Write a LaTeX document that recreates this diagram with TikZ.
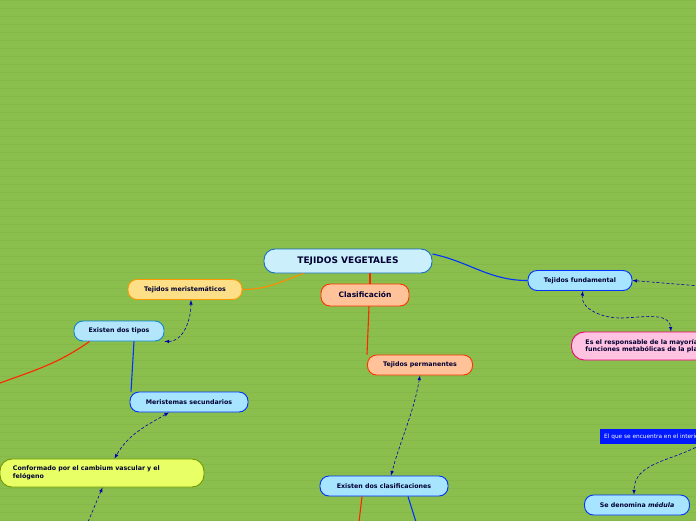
\documentclass[tikz,border=0pt]{standalone}
\usepackage{fontspec}
\setmainfont{DejaVu Sans}
\begin{document}
\begin{tikzpicture}[x=1pt,y=-1pt,
 box/.style={draw,line width=0.9pt,rounded corners=9pt,font=\bfseries\fontsize{6.3}{7.5}\selectfont,text=black!80!blue,inner sep=0pt,minimum height=20pt},
 dashc/.style={densely dashed,draw=blue!70!black,line width=0.6pt,-latex},
 conn/.style={line width=1.1pt}]
\definecolor{bg}{HTML}{8ABF4E}
\useasboundingbox (0,0) rectangle (696,520);
\clip (0,0) rectangle (696,520);
\fill[bg] (0,0) rectangle (696,520);
\foreach \y in {0,8,...,520} \draw[black!4!bg,line width=0.3pt] (0,\y) -- (696,\y);
% nodes
\node[box,fill=cyan!20,draw=cyan!50!blue,minimum width=168pt,minimum height=24pt,rounded corners=11pt,font=\bfseries\fontsize{9}{10}\selectfont] (root) at (348,261) {TEJIDOS VEGETALES};
\node[box,fill=yellow!50!orange!45,draw=orange!80!yellow,minimum width=114pt] (mer) at (185,289.5) {Tejidos meristemáticos};
\node[box,fill=red!20!orange!40,draw=red!60!orange,minimum width=88pt,minimum height=22pt,font=\bfseries\fontsize{7.5}{9}\selectfont] (clas) at (365,295) {Clasificación};
\node[box,fill=cyan!30,draw=cyan!70!blue,minimum width=90pt] (tipos) at (119,331) {Existen dos tipos};
\node[box,fill=red!20!orange!40,draw=red!60!orange,minimum width=105pt] (perm) at (420,365) {Tejidos permanentes};
\node[box,fill=blue!30!cyan!35,draw=blue!80!cyan,minimum width=118pt] (sec) at (189,402) {Meristemas secundarios};
\node[box,fill=lime!60!yellow!60,draw=lime!60!black,minimum height=28pt,rounded corners=12pt,align=left,text width=178pt,inner xsep=13pt,anchor=west] (conf) at (-0.5,473) {Conformado por el cambium vascular y el\\felógeno};
\node[box,fill=blue!30!cyan!35,draw=blue!80!cyan,minimum width=128pt] (dosc) at (384,486) {Existen dos clasificaciones};
\node[box,fill=blue!30!cyan!35,draw=blue!80!cyan,minimum width=104pt] (fund) at (580,280.5) {Tejidos fundamental};
\node[box,fill=pink!80!magenta!60,draw=magenta!80!red,minimum width=180pt,minimum height=28pt,rounded corners=13pt,align=left,anchor=west] (resp) at (571,346) {\hspace*{14pt}\parbox{170pt}{Es el responsable de la mayoría de las\\funciones metabólicas de la planta}};
\node[fill=blue!90!cyan,text=white,font=\fontsize{5.8}{7}\selectfont,anchor=west,minimum height=15pt,inner sep=4pt] (int) at (600,436.5) {El que se encuentra en el interior del tallo};
\node[box,fill=blue!30!cyan!35,draw=blue!80!cyan,minimum width=105pt] (med) at (637,505) {Se denomina \textit{médula}};
\coordinate (lft) at (0,383);
\coordinate (rgt) at (700,286);
\coordinate (cb) at (88,522);
\coordinate (o1) at (359,522);
\coordinate (b1) at (416,522);
% connectors
\draw[conn,orange!90!yellow] ([xshift=40pt]root.south west) to[out=200,in=0] (mer.east);
\draw[conn,red!70!orange] ([xshift=22pt]root.south) -- ([xshift=5pt]clas.north);
\draw[conn,red!70!orange] ([xshift=4pt]clas.south) -- ([xshift=-53pt]perm.north);
\draw[conn,blue!80!cyan] ([yshift=7pt]root.east) to[out=-12,in=180] (fund.west);
\draw[conn,red!70!orange] ([xshift=16pt]tipos.south west) to[out=215,in=20] (lft);
\draw[conn,blue!80!cyan] ([xshift=15pt]tipos.south) -- ([xshift=-58pt]sec.north);
\draw[conn,red!70!orange] ([xshift=-22pt]dosc.south) -- (o1);
\draw[conn,blue!80!cyan] ([xshift=24pt]dosc.south) -- (b1);
\draw[dashc,latex-latex] (tipos.south east) to[out=0,in=-90] ([xshift=6pt]mer.south);
\draw[dashc,latex-latex] ([xshift=-20pt]sec.south) to[out=210,in=60] ([xshift=115pt]conf.north west);
\draw[dashc,latex-] ([xshift=103pt]conf.south west) -- (cb);
\draw[dashc,latex-latex] (perm.south) to[out=260,in=75] ([xshift=7pt]dosc.north);
\draw[dashc,latex-latex] ([xshift=3pt]fund.south) to[out=260,in=180] (620,318) to[out=0,in=95] ([xshift=100pt]resp.north west);
\draw[dashc,latex-] (fund.east) -- (rgt);
\draw[dashc] (700,445) to[out=210,in=90] ([xshift=-3pt]med.north);
\end{tikzpicture}
\end{document}
